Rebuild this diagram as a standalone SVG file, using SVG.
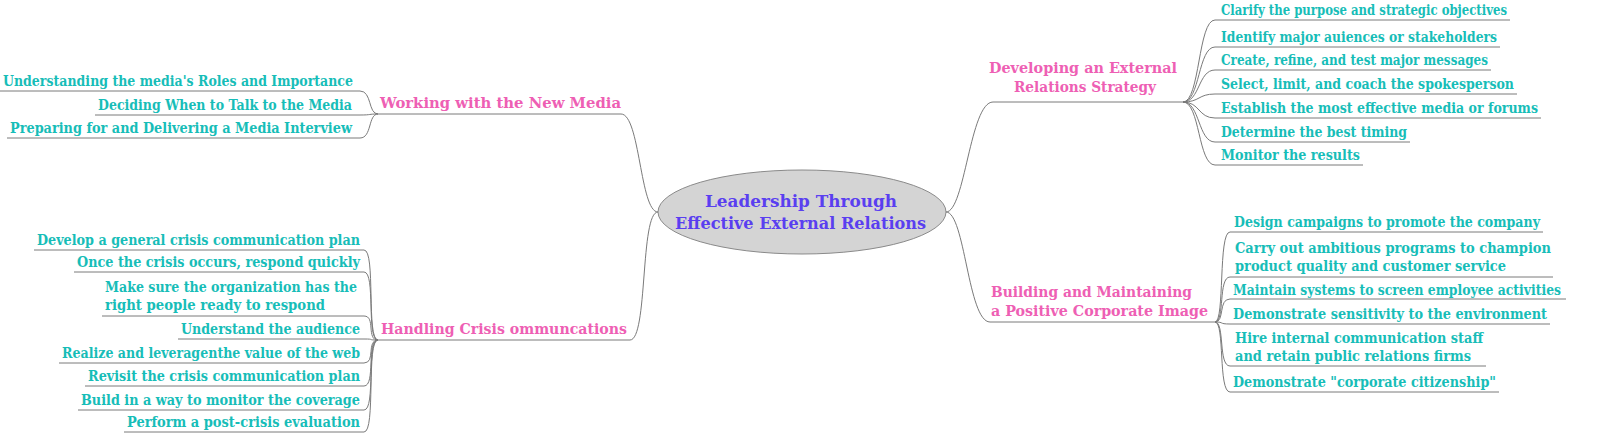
<svg xmlns="http://www.w3.org/2000/svg" width="1600" height="441" viewBox="0 0 1600 441">
<style>
text{font-family:"DejaVu Serif","Liberation Serif",serif;font-weight:bold;font-size:14px}
.leaf{fill:#17bdb8}
.main{fill:#ee5fb4;font-size:15px}
.center{fill:#5a3ff0;font-size:16px}
.c{fill:none;stroke:#7a7a7a;stroke-width:1}
</style>
<rect width="1600" height="441" fill="#fff"/>
<g id="connectors">
<path class="c" d="M658,212 C640,212 640,114 621,114 H378"/>
<path class="c" d="M658,212 C640,212 648,340 630,340 H378"/>
<path class="c" d="M946,212 C965,212 970,102 993,102 H1183"/>
<path class="c" d="M946,212 C965,212 968,322 990,322 H1215"/>
<path class="c" d="M1183,102 C1200,102 1198,20 1215,20 H1510"/>
<path class="c" d="M1183,102 C1200,102 1198,47 1215,47 H1500"/>
<path class="c" d="M1183,102 C1200,102 1198,70 1215,70 H1491"/>
<path class="c" d="M1183,102 C1200,102 1198,94 1215,94 H1517"/>
<path class="c" d="M1183,102 C1200,102 1198,118 1215,118 H1541"/>
<path class="c" d="M1183,102 C1200,102 1198,142 1215,142 H1410"/>
<path class="c" d="M1183,102 C1200,102 1198,165 1215,165 H1363"/>
<path class="c" d="M1215,322 C1225,322 1218,232 1230,232 H1543"/>
<path class="c" d="M1215,322 C1225,322 1218,277 1230,277 H1553"/>
<path class="c" d="M1215,322 C1225,322 1218,299 1230,299 H1566"/>
<path class="c" d="M1215,322 C1225,322 1218,324 1230,324 H1550"/>
<path class="c" d="M1215,322 C1225,322 1218,366 1230,366 H1486"/>
<path class="c" d="M1215,322 C1225,322 1218,392 1230,392 H1499"/>
<path class="c" d="M378,114 C368,114 372,91 360,91 H0"/>
<path class="c" d="M378,114 C368,114 372,115 360,115 H95"/>
<path class="c" d="M378,114 C368,114 372,138 360,138 H7"/>
<path class="c" d="M378,340 C366,340 376,250 364,250 H34"/>
<path class="c" d="M378,340 C366,340 376,272 364,272 H74"/>
<path class="c" d="M378,340 C366,340 376,316 364,316 H102"/>
<path class="c" d="M378,340 C366,340 376,339 364,339 H178"/>
<path class="c" d="M378,340 C366,340 376,363 364,363 H59"/>
<path class="c" d="M378,340 C366,340 376,386 364,386 H85"/>
<path class="c" d="M378,340 C366,340 376,410 364,410 H78"/>
<path class="c" d="M378,340 C366,340 376,432 364,432 H124"/>
</g>
<g id="center">
<ellipse cx="802" cy="212" rx="144" ry="42" fill="#d4d4d4" stroke="#8a8a8a"/>
<text class="center" x="705" y="207" textLength="192" lengthAdjust="spacingAndGlyphs">Leadership Through</text>
<text class="center" x="675" y="229" textLength="251" lengthAdjust="spacingAndGlyphs">Effective External Relations</text>
</g>
<g id="developing">
<text class="main" x="989" y="73" textLength="188" lengthAdjust="spacingAndGlyphs">Developing an External</text>
<text class="main" x="1014" y="92" textLength="142" lengthAdjust="spacingAndGlyphs">Relations Strategy</text>
</g>
<g id="dev-leaves">
<text class="leaf" x="1221" y="15" textLength="286" lengthAdjust="spacingAndGlyphs">Clarify the purpose and strategic objectives</text>
<text class="leaf" x="1221" y="42" textLength="276" lengthAdjust="spacingAndGlyphs">Identify major auiences or stakeholders</text>
<text class="leaf" x="1221" y="65" textLength="267" lengthAdjust="spacingAndGlyphs">Create, refine, and test major messages</text>
<text class="leaf" x="1221" y="89" textLength="293" lengthAdjust="spacingAndGlyphs">Select, limit, and coach the spokesperson</text>
<text class="leaf" x="1221" y="113" textLength="317" lengthAdjust="spacingAndGlyphs">Establish the most effective media or forums</text>
<text class="leaf" x="1221" y="137" textLength="186" lengthAdjust="spacingAndGlyphs">Determine the best timing</text>
<text class="leaf" x="1221" y="160" textLength="139" lengthAdjust="spacingAndGlyphs">Monitor the results</text>
</g>
<g id="building">
<text class="main" x="991" y="297" textLength="201" lengthAdjust="spacingAndGlyphs">Building and Maintaining</text>
<text class="main" x="991" y="316" textLength="217" lengthAdjust="spacingAndGlyphs">a Positive Corporate Image</text>
</g>
<g id="build-leaves">
<text class="leaf" x="1234" y="227" textLength="306" lengthAdjust="spacingAndGlyphs">Design campaigns to promote the company</text>
<text class="leaf" x="1235" y="253" textLength="316" lengthAdjust="spacingAndGlyphs">Carry out ambitious programs to champion</text>
<text class="leaf" x="1235" y="271" textLength="271" lengthAdjust="spacingAndGlyphs">product quality and customer service</text>
<text class="leaf" x="1233" y="295" textLength="328" lengthAdjust="spacingAndGlyphs">Maintain systems to screen employee activities</text>
<text class="leaf" x="1233" y="319" textLength="314" lengthAdjust="spacingAndGlyphs">Demonstrate sensitivity to the environment</text>
<text class="leaf" x="1235" y="343" textLength="248" lengthAdjust="spacingAndGlyphs">Hire internal communication staff</text>
<text class="leaf" x="1235" y="361" textLength="236" lengthAdjust="spacingAndGlyphs">and retain public relations firms</text>
<text class="leaf" x="1233" y="387" textLength="263" lengthAdjust="spacingAndGlyphs">Demonstrate "corporate citizenship"</text>
</g>
<g id="media">
<text class="main" x="380" y="108" textLength="241" lengthAdjust="spacingAndGlyphs">Working with the New Media</text>
</g>
<g id="media-leaves">
<text class="leaf" x="3" y="86" textLength="350" lengthAdjust="spacingAndGlyphs">Understanding the media's Roles and Importance</text>
<text class="leaf" x="98" y="110" textLength="254" lengthAdjust="spacingAndGlyphs">Deciding When to Talk to the Media</text>
<text class="leaf" x="10" y="133" textLength="342" lengthAdjust="spacingAndGlyphs">Preparing for and Delivering a Media Interview</text>
</g>
<g id="crisis">
<text class="main" x="381" y="334" textLength="246" lengthAdjust="spacingAndGlyphs">Handling Crisis ommuncations</text>
</g>
<g id="crisis-leaves">
<text class="leaf" x="37" y="245" textLength="323" lengthAdjust="spacingAndGlyphs">Develop a general crisis communication plan</text>
<text class="leaf" x="77" y="267" textLength="283" lengthAdjust="spacingAndGlyphs">Once the crisis occurs, respond quickly</text>
<text class="leaf" x="105" y="292" textLength="252" lengthAdjust="spacingAndGlyphs">Make sure the organization has the</text>
<text class="leaf" x="105" y="310" textLength="220" lengthAdjust="spacingAndGlyphs">right people ready to respond</text>
<text class="leaf" x="181" y="334" textLength="179" lengthAdjust="spacingAndGlyphs">Understand the audience</text>
<text class="leaf" x="62" y="358" textLength="298" lengthAdjust="spacingAndGlyphs">Realize and leveragenthe value of the web</text>
<text class="leaf" x="88" y="381" textLength="272" lengthAdjust="spacingAndGlyphs">Revisit the crisis communication plan</text>
<text class="leaf" x="81" y="405" textLength="279" lengthAdjust="spacingAndGlyphs">Build in a way to monitor the coverage</text>
<text class="leaf" x="127" y="427" textLength="233" lengthAdjust="spacingAndGlyphs">Perform a post-crisis evaluation</text>
</g>
</svg>
